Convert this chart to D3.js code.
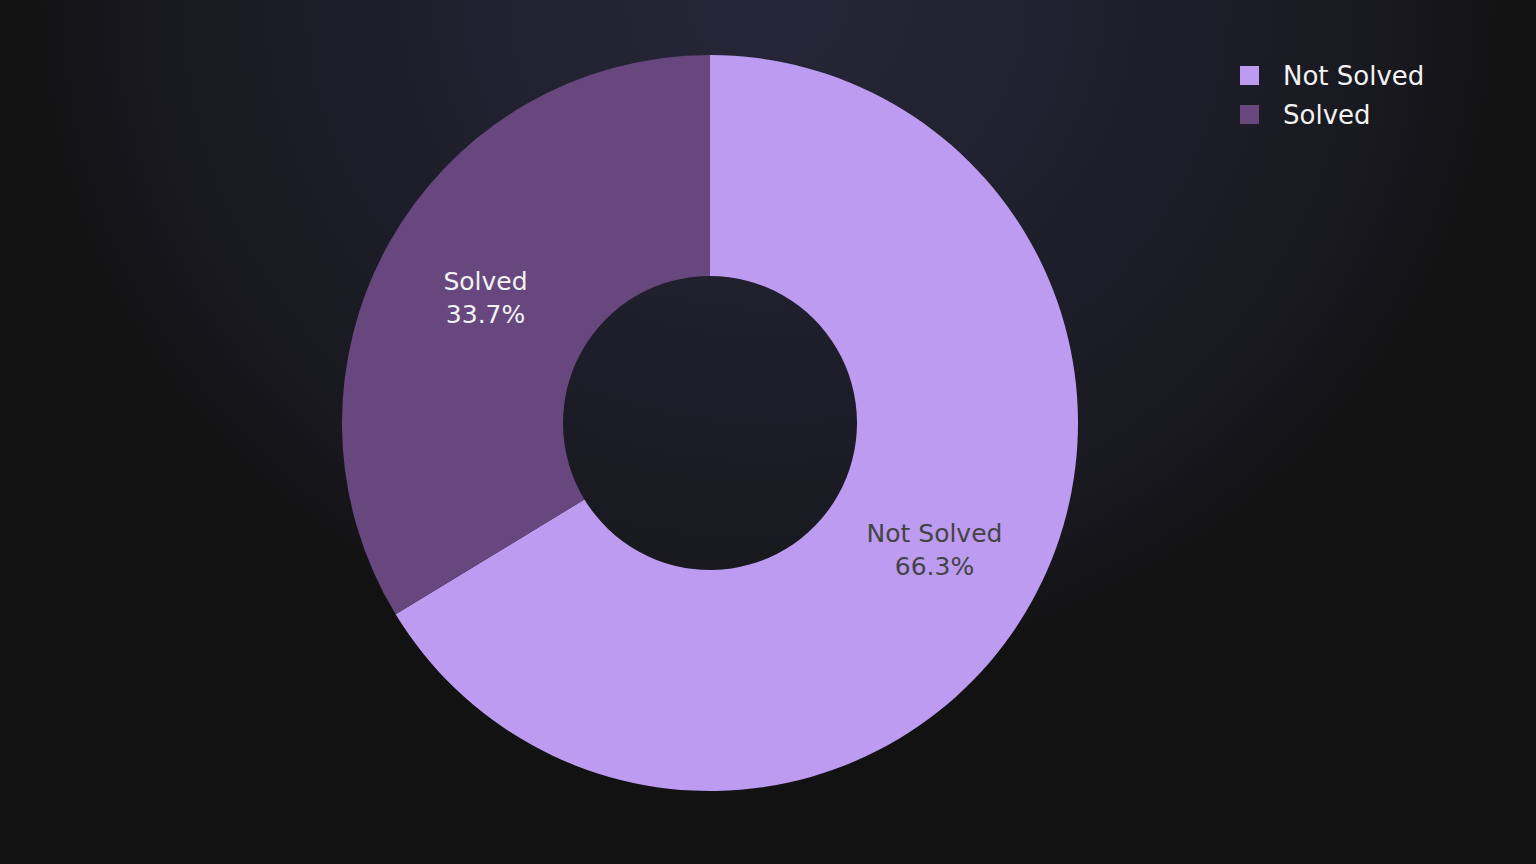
<!DOCTYPE html>
<html>
<head>
<meta charset="utf-8">
<script src="https://cdn.jsdelivr.net/npm/d3@7"></script>
<style>
  html, body { margin: 0; padding: 0; background: #121212; }
  svg { display: block; }
</style>
</head>
<body>
<svg id="chart" width="1536" height="864"></svg>
<script>
const categories = ["Not Solved", "Solved"];
const values = [66.3, 33.7];
const colors = ["#bc9bf1", "#68477f"];
const labelColors = ["#444444", "#f2f2f2"];

const W = 1536, H = 864;
const cx = 710, cy = 423, outerR = 368, innerR = 147;

const svg = d3.select("#chart");
const defs = svg.append("defs");
const grad = defs.append("radialGradient")
  .attr("id", "bg").attr("gradientUnits", "userSpaceOnUse")
  .attr("cx", 768).attr("cy", 0).attr("r", 740)
  .attr("gradientTransform", "translate(768,0) scale(1,0.92) translate(-768,0)");
[[0, "#262638"], [0.3, "#222231"], [0.6, "#1d1d29"], [0.85, "#18181e"], [0.97, "#141416"], [1, "#121212"]]
  .forEach(([o, c]) => grad.append("stop").attr("offset", o).attr("stop-color", c));
svg.append("rect").attr("width", W).attr("height", H).attr("fill", "url(#bg)");

const pie = d3.pie().value(d => d.value).sort(null);
const data = categories.map((c, i) => ({ name: c, value: values[i], i }));
const arcs = pie(data);
const arc = d3.arc().innerRadius(innerR).outerRadius(outerR);

const g = svg.append("g").attr("transform", `translate(${cx},${cy})`);
g.selectAll("path").data(arcs).join("path")
  .attr("d", arc)
  .attr("fill", d => colors[d.data.i]);

const total = d3.sum(values);
const lbl = g.selectAll("text.lbl").data(arcs).join("text")
  .attr("class", "lbl")
  .attr("transform", d => `translate(${arc.centroid(d)})`)
  .attr("text-anchor", "middle")
  .attr("font-family", "DejaVu Sans, Verdana, sans-serif")
  .attr("font-size", 25)
  .attr("fill", d => labelColors[d.data.i]);
lbl.append("tspan").attr("x", 0).attr("y", -7).text(d => d.data.name);
lbl.append("tspan").attr("x", 0).attr("y", 26).text(d => (d.data.value / total * 100).toFixed(1) + "%");

const legend = svg.append("g").attr("transform", "translate(1240,66)");
const items = legend.selectAll("g").data(data).join("g")
  .attr("transform", (d, i) => `translate(0,${i * 39})`);
items.append("rect").attr("width", 19).attr("height", 19)
  .attr("fill", d => colors[d.i]);
items.append("text").attr("x", 43).attr("y", 19)
  .attr("font-family", "DejaVu Sans, Verdana, sans-serif")
  .attr("font-size", 26)
  .attr("fill", "#f2f2f2")
  .text(d => d.name);
</script>
</body>
</html>
